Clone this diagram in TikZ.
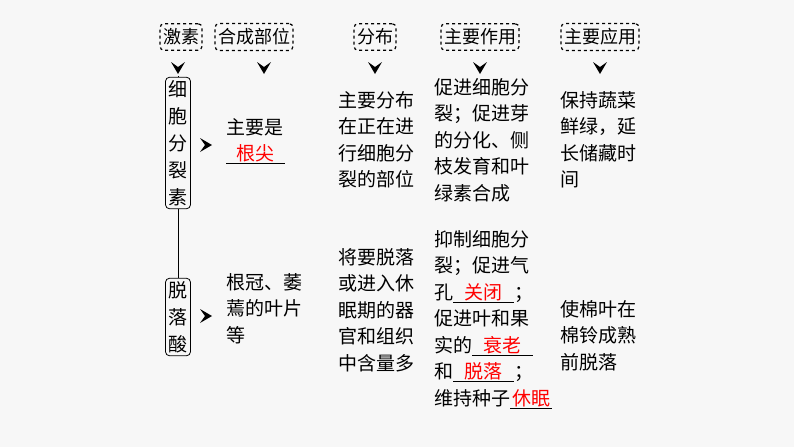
\documentclass[tikz,border=0pt]{standalone}
\usepackage{fontspec}
\setmainfont{Noto Sans CJK SC}
\usetikzlibrary{positioning,shapes}
\newcommand{\blank}[2][3.2em]{\underline{\makebox[#1]{\textcolor{red}{#2}}}}
\tikzset{
  head/.style = {draw, dashed, very thick, rounded corners=4pt, inner xsep=3pt, inner ysep=5pt, font=\fontsize{18}{20}\selectfont},
  hormone/.style = {draw, thick, rounded corners=4pt, inner sep=3pt, align=center, font=\fontsize{19}{27}\selectfont},
  cell/.style = {anchor=north west, align=left, inner sep=0pt, font=\fontsize{19}{26.5}\selectfont},
  chevdown/.pic = {\fill (-7,-6) -- (0,6) -- (7,-6) -- (0,-1) -- cycle;},
  chevright/.pic = {\fill (-6,-7) -- (6,0) -- (-6,7) -- (-1,0) -- cycle;}
}
\begin{document}
\begin{tikzpicture}[x = 1pt, y = -1pt]
\fill[gray!6] (0,0) rectangle (794,447);
\useasboundingbox (0,0) rectangle (794,447);
\node[head] (h1) at (181,37) {激素};
\node[head] (h2) at (254,37) {合成部位};
\node[head] (h3) at (375,37) {分布};
\node[head] (h4) at (480,37) {主要作用};
\node[head] (h5) at (600,37) {主要应用};
\foreach \x/\n in {178/c1, 264/c2, 375/c3, 480/c4, 600/c5}
  \pic (\n) at (\x,68) {chevdown};
\coordinate (top) at (178,76);
\node[hormone, minimum height=114pt] (ck) at (178,143) {细\\胞\\分\\裂\\素};
\node[hormone] (aba) at (178,317) {脱\\落\\酸};
\draw[thick] (top) -- (ck) -- (aba);
\pic at (206,145) {chevright};
\pic at (206,316) {chevright};
% row 1
\node[cell] (ck1) at (226,118) {主要是\\\blank[3.1em]{根尖}};
\node[cell] (ck2) at (338,91) {主要分布\\在正在进\\行细胞分\\裂的部位};
\node[cell] (ck3) at (434,78) {促进细胞分\\裂；促进芽\\的分化、侧\\枝发育和叶\\绿素合成};
\node[cell] (ck4) at (560,91) {保持蔬菜\\鲜绿，延\\长储藏时\\间};
% row 2
\node[cell] (aba1) at (226,273) {根冠、萎\\蔫的叶片\\等};
\node[cell] (aba2) at (338,248) {将要脱落\\或进入休\\眠期的器\\官和组织\\中含量多};
\node[cell] (aba3) at (434,230) {抑制细胞分\\裂；促进气\\孔\blank{关闭}；\\促进叶和果\\实的\blank{衰老}\\和\blank{脱落}；\\维持种子\blank[2.2em]{休眠}};
\node[cell] (aba4) at (560,300) {使棉叶在\\棉铃成熟\\前脱落};
\end{tikzpicture}
\end{document}
